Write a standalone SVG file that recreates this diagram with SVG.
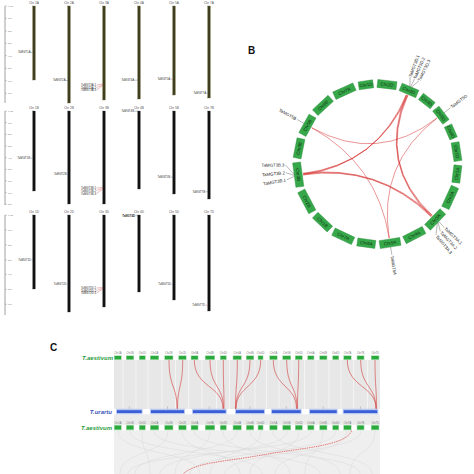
<svg xmlns="http://www.w3.org/2000/svg" width="474" height="474" viewBox="0 0 474 474">
<defs>
<style>
text{font-family:"Liberation Sans",Arial,sans-serif}
.chrA{fill:#403e20;stroke:#77754a;stroke-width:0.4}
.chrK{fill:#111;stroke:#444;stroke-width:0.3}
.clab{font-size:3.2px;fill:#555;text-anchor:middle}
.glab{font-size:2.8px;fill:#333;text-anchor:end}
.gl{stroke:#333;stroke-width:0.3;fill:none}
.gr{stroke:#d23a3a;stroke-width:0.35;fill:none}
.rul{stroke:#888;stroke-width:0.8;fill:none}
.tick{stroke:#888;stroke-width:0.4}
.tl{font-size:2.3px;fill:#777}
.box{fill:#36a84a;stroke:#2a8a3a;stroke-width:0.4}
.bt{font-size:4.5px;fill:#0f2f0f;text-anchor:middle}
.bg{font-size:4.3px;fill:#222}
.bl{stroke:#333;stroke-width:0.35;fill:none}
.lk{stroke:#d42a2a;stroke-width:0.55;fill:none;opacity:0.9}
.panel{font-size:10px;font-weight:bold;fill:#111}
.gb{fill:#a8deb0}
.gi{fill:#2aaa3c}
.ct{font-size:2.6px;fill:#777;text-anchor:middle}
.ub{fill:#b8c8f0}
.ui{fill:#3a5fd6}
.rc{stroke:#d43a3a;stroke-width:0.6;fill:none}
.gc{stroke:#d8d8d8;stroke-width:0.5;fill:none}
.ws{stroke:#fafafa;stroke-width:1;opacity:0.7}
</style>
</defs>

<!-- ===== Panel A ===== -->
<g id="panelA">
<g id="rulers">
<path class="rul" d="M5 6V103M5 111V205M5 215V315"/>
<path class="tick" d="M5 6h2M5 18.3h2M5 31h2M5 43.3h2M5 55.7h2M5 68.3h2M5 80.7h2M5 93.3h2
M5 111h2M5 122.7h2M5 134.3h2M5 146h2M5 157.7h2M5 169.3h2M5 181h2M5 192.7h2M5 204.3h2
M5 215h2M5 230h2M5 245h2M5 260h2M5 274.3h2M5 289.3h2M5 304.3h2"/>
<g class="tl">
<text x="8" y="6.8">0 Mb</text><text x="8" y="19.1">100</text><text x="8" y="31.8">200</text><text x="8" y="44.1">300</text><text x="8" y="56.5">400</text><text x="8" y="69.1">500</text><text x="8" y="81.5">600</text><text x="8" y="94.1">700</text>
<text x="8" y="111.8">0 Mb</text><text x="8" y="123.5">100</text><text x="8" y="135.1">200</text><text x="8" y="146.8">300</text><text x="8" y="158.5">400</text><text x="8" y="170.1">500</text><text x="8" y="181.8">600</text><text x="8" y="193.5">700</text><text x="8" y="205.1">800</text>
<text x="8" y="215.8">0 Mb</text><text x="8" y="230.8">100</text><text x="8" y="245.8">200</text><text x="8" y="260.8">300</text><text x="8" y="275.1">400</text><text x="8" y="290.1">500</text><text x="8" y="305.1">600</text>
</g>
</g>

<g id="chr1A"><text class="clab" x="34" y="4">Chr 1A</text><rect class="chrA" x="32.7" y="6" width="2.6" height="74"/><text class="glab" x="30.5" y="53.3">TaMGT1A</text><path class="gl" d="M31 52.5H32.7"/></g>
<g id="chr2A"><text class="clab" x="69" y="4">Chr 2A</text><rect class="chrA" x="67.7" y="6" width="2.6" height="97"/><text class="glab" x="65.5" y="81.3">TaMGT2A</text><path class="gl" d="M66 80.5H67.7"/></g>
<g id="chr3A"><text class="clab" x="104" y="4">Chr 3A</text><rect class="chrA" x="102.7" y="6" width="2.6" height="94"/><text class="glab" x="96" y="86">TaMGT3A.1</text><text class="glab" x="96" y="88.5">TaMGT3A.2</text><text class="glab" x="96" y="91">TaMGT3A.3</text><path class="gr" d="M96.5 85L102.7 84M96.5 87.5L102.7 84.8M96.5 90L102.7 85.5"/></g>
<g id="chr4A"><text class="clab" x="139" y="4">Chr 4A</text><rect class="chrA" x="137.7" y="6" width="2.6" height="93"/><text class="glab" x="134" y="81">TaMGT4A</text><path class="gl" d="M134.5 80.2H137.7"/></g>
<g id="chr5A"><text class="clab" x="174" y="4">Chr 5A</text><rect class="chrA" x="172.7" y="6" width="2.6" height="89"/><text class="glab" x="170" y="80">TaMGT5A</text><path class="gr" d="M170.5 79.2H172.7"/></g>
<g id="chr7A"><text class="clab" x="209" y="4">Chr 7A</text><rect class="chrA" x="207.7" y="6" width="2.6" height="92"/><text class="glab" x="206" y="94">TaMGT7A</text><path class="gl" d="M206.5 93.2H207.7"/></g>

<g id="chr1B"><text class="clab" x="34" y="108.5">Chr 1B</text><rect class="chrK" x="32.7" y="111" width="2.6" height="80"/><text class="glab" x="30" y="159">TaMGT1B</text><path class="gl" d="M30.5 158.2H32.7"/></g>
<g id="chr2B"><text class="clab" x="69" y="108.5">Chr 2B</text><rect class="chrK" x="67.7" y="111" width="2.6" height="93"/><text class="glab" x="66.5" y="175">TaMGT2B</text><path class="gl" d="M67 174.2H67.7"/></g>
<g id="chr3B"><text class="clab" x="104" y="108.5">Chr 3B</text><rect class="chrK" x="102.7" y="111" width="2.6" height="93"/><text class="glab" x="96" y="189">TaMGT3B.1</text><text class="glab" x="96" y="191.5">TaMGT3B.2</text><text class="glab" x="96" y="194.5">TaMGT3B.3</text><path class="gr" d="M96.5 188L102.7 187.5M96.5 190.5L102.7 188.3M96.5 193.5L102.7 189"/></g>
<g id="chr4B"><text class="clab" x="139" y="108.5">Chr 4B</text><rect class="chrK" x="137.7" y="111" width="2.6" height="78"/><text class="glab" x="134" y="112">TaMGT4B</text><path class="gl" d="M134.5 111.2H137.7"/></g>
<g id="chr5B"><text class="clab" x="174" y="108.5">Chr 5B</text><rect class="chrK" x="172.7" y="111" width="2.6" height="83"/><text class="glab" x="170" y="178">TaMGT5B</text><path class="gl" d="M170.5 177.2H172.7"/></g>
<g id="chr7B"><text class="clab" x="209" y="108.5">Chr 7B</text><rect class="chrK" x="207.7" y="111" width="2.6" height="88"/><text class="glab" x="205" y="192.5">TaMGT7B</text><path class="gl" d="M205.5 191.7H207.7"/></g>

<g id="chr1D"><text class="clab" x="34" y="212.5">Chr 1D</text><rect class="chrK" x="32.7" y="215" width="2.6" height="74"/><text class="glab" x="31" y="260.5">TaMGT1D</text><path class="gl" d="M31.5 259.7H32.7"/></g>
<g id="chr2D"><text class="clab" x="69" y="212.5">Chr 2D</text><rect class="chrK" x="67.7" y="215" width="2.6" height="97"/><text class="glab" x="66.5" y="285">TaMGT2D</text><path class="gr" d="M67 284.2H67.7"/></g>
<g id="chr3D"><text class="clab" x="104" y="212.5">Chr 3D</text><rect class="chrK" x="102.7" y="215" width="2.6" height="92"/><text class="glab" x="96" y="289">TaMGT3D.1</text><text class="glab" x="96" y="291.5">TaMGT3D.2</text><text class="glab" x="96" y="294">TaMGT3D.3</text><path class="gr" d="M96.5 288L102.7 287.5M96.5 290.5L102.7 288.3M96.5 293L102.7 289"/></g>
<g id="chr4D"><text class="clab" x="139" y="212.5">Chr 4D</text><rect class="chrK" x="137.7" y="215" width="2.6" height="77"/><text class="glab" x="135" y="216.5" font-weight="bold">TaMGT4D</text><path class="gl" d="M135.5 215.7H137.7"/></g>
<g id="chr5D"><text class="clab" x="174" y="212.5">Chr 5D</text><rect class="chrK" x="172.7" y="215" width="2.6" height="85"/><text class="glab" x="171" y="285">TaMGT5D</text><path class="gl" d="M171.5 284.2H172.7"/></g>
<g id="chr7D"><text class="clab" x="209" y="212.5">Chr 7D</text><rect class="chrK" x="207.7" y="215" width="2.6" height="96"/><text class="glab" x="205" y="306">TaMGT7D</text><path class="gr" d="M205.5 305.2H207.7"/></g>
</g>

<!-- ===== Panel B ===== -->
<text class="panel" x="248" y="54">B</text>
<g id="panelB">
<g id="links">
<path class="lk" d="M303.3 174.9Q377.5 164 406.3 94.8M303.2 174.1Q377.5 164 407 95.1M303.1 173.4Q377.5 164 407.8 95.4"/>
<path class="lk" d="M303.3 174.9Q377.5 164 431 216.6M303.2 174.1Q377.5 164 431.6 216M303.1 173.4Q377.5 164 432.2 215.3"/>
<path class="lk" d="M406.3 94.8Q377.5 164 431 216.6M407 95.1Q377.5 164 431.6 216M407.8 95.4Q377.5 164 432.2 215.3"/>
<path class="lk" d="M311.8 127.8Q377.5 164 436.9 118.2"/>
<path class="lk" d="M311.8 127.8Q377.5 164 389.2 238.1"/>
<path class="lk" d="M436.9 118.2Q377.5 164 389.2 238.1"/>
</g>
<g transform="translate(377.5 164)">
<g id="b1A" transform="rotate(7.15)"><rect class="box" x="76" y="-8.75" width="8" height="17.5"/><text class="bt" transform="translate(80 0) rotate(-90)" dy="1.6">Chr1A</text></g>
<g id="b2A" transform="rotate(24.68)"><rect class="box" x="76" y="-11.5" width="8" height="23"/><text class="bt" transform="translate(80 0) rotate(-90)" dy="1.6">Chr2A</text></g>
<g id="b3A" transform="rotate(43.85)"><rect class="box" x="76" y="-11.05" width="8" height="22.1"/><text class="bt" transform="translate(80 0) rotate(-90)" dy="1.6">Chr3A</text></g>
<g id="b4A" transform="rotate(62.65)"><rect class="box" x="76" y="-11" width="8" height="22"/><text class="bt" transform="translate(80 0) rotate(-90)" dy="1.6">Chr4A</text></g>
<g id="b5A" transform="rotate(81)"><rect class="box" x="76" y="-10.45" width="8" height="20.9"/><text class="bt" transform="translate(80 0) rotate(-90)" dy="1.6">Chr5A</text></g>
<g id="b6A" transform="rotate(98.03)"><rect class="box" x="76" y="-9.1" width="8" height="18.2"/><text class="bt" transform="translate(80 0) rotate(-90)" dy="1.6">Chr6A</text></g>
<g id="b7A" transform="rotate(115.33)"><rect class="box" x="76" y="-10.85" width="8" height="21.7"/><text class="bt" transform="translate(80 0) rotate(-90)" dy="1.6">Chr7A</text></g>
<g id="b1B" transform="rotate(133.39)"><rect class="box" x="76" y="-10.15" width="8" height="20.3"/><text class="bt" transform="translate(80 0) rotate(-90)" dy="1.6">Chr1B</text></g>
<g id="b2B" transform="rotate(152.13)"><rect class="box" x="76" y="-11.8" width="8" height="23.6"/><text class="bt" transform="translate(80 0) rotate(-90)" dy="1.6">Chr2B</text></g>
<g id="b3B" transform="rotate(172.36)"><rect class="box" x="76" y="-12.25" width="8" height="24.5"/><text class="bt" transform="translate(80 0) rotate(-90)" dy="1.6">Chr3B</text></g>
<g id="b4B" transform="rotate(191.25)"><rect class="box" x="76" y="-9.95" width="8" height="19.9"/><text class="bt" transform="translate(80 0) rotate(90)" dy="1.6">Chr4B</text></g>
<g id="b5B" transform="rotate(208.9)"><rect class="box" x="76" y="-10.5" width="8" height="21"/><text class="bt" transform="translate(80 0) rotate(90)" dy="1.6">Chr5B</text></g>
<g id="b6B" transform="rotate(227.03)"><rect class="box" x="76" y="-10.6" width="8" height="21.2"/><text class="bt" transform="translate(80 0) rotate(90)" dy="1.6">Chr6B</text></g>
<g id="b7B" transform="rotate(245.56)"><rect class="box" x="76" y="-11.05" width="8" height="22.1"/><text class="bt" transform="translate(80 0) rotate(90)" dy="1.6">Chr7B</text></g>
<g id="b1D" transform="rotate(261.68)"><rect class="box" x="76" y="-7.3" width="8" height="14.6"/><text class="bt" transform="translate(80 0) rotate(90)" dy="1.6">Chr1D</text></g>
<g id="b2D" transform="rotate(276.78)"><rect class="box" x="76" y="-9.6" width="8" height="19.2"/><text class="bt" transform="translate(80 0) rotate(90)" dy="1.6">Chr2D</text></g>
<g id="b3D" transform="rotate(293.16)"><rect class="box" x="76" y="-9.05" width="8" height="18.1"/><text class="bt" transform="translate(80 0) rotate(90)" dy="1.6">Chr3D</text></g>
<g id="b4D" transform="rotate(308.04)"><rect class="box" x="76" y="-7.5" width="8" height="15"/><text class="bt" transform="translate(80 0) rotate(90)" dy="1.6">Chr4D</text></g>
<g id="b5D" transform="rotate(322.41)"><rect class="box" x="76" y="-8.35" width="8" height="16.7"/><text class="bt" transform="translate(80 0) rotate(90)" dy="1.6">Chr5D</text></g>
<g id="b6D" transform="rotate(336.39)"><rect class="box" x="76" y="-7" width="8" height="14"/><text class="bt" transform="translate(80 0) rotate(90)" dy="1.6">Chr6D</text></g>
<g id="b7D" transform="rotate(351.14)"><rect class="box" x="76" y="-9.4" width="8" height="18.8"/><text class="bt" transform="translate(80 0) rotate(90)" dy="1.6">Chr7D</text></g>

<g id="geneLabels">
<text class="bg" transform="rotate(290.5) translate(93 0)" dy="1.5">TaMGT3D.1</text>
<text class="bg" transform="rotate(293.5) translate(93 0)" dy="1.5">TaMGT3D.2</text>
<text class="bg" transform="rotate(296.5) translate(93 0)" dy="1.5">TaMGT3D.3</text>
<text class="bg" transform="rotate(322.4) translate(93 0)" dy="1.5">TaMGT5D</text>
<text class="bg" transform="rotate(208.9) translate(93 0) rotate(180)" text-anchor="end" dy="1.5">TaMGT5B</text>
<text class="bg" transform="rotate(179.4) translate(93 0) rotate(180)" text-anchor="end" dy="1.5">TaMGT3B.3</text>
<text class="bg" transform="rotate(174.6) translate(93 0) rotate(180)" text-anchor="end" dy="1.5">TaMGT3B.2</text>
<text class="bg" transform="rotate(170.1) translate(93 0) rotate(180)" text-anchor="end" dy="1.5">TaMGT3B.1</text>
<text class="bg" transform="rotate(43.5) translate(93 0)" dy="1.5">TaMGT3A.1</text>
<text class="bg" transform="rotate(47) translate(93 0)" dy="1.5">TaMGT3A.2</text>
<text class="bg" transform="rotate(50.5) translate(93 0)" dy="1.5">TaMGT3A.3</text>
<text class="bg" transform="rotate(81) translate(93 0)" dy="1.5">TaMGT5A</text>
</g>
</g>
<path class="bl" d="M409.8 86.4L410.1 76.9M410.6 86.8L414.6 78.7M411.4 87.1L419 80.8
M444.1 112.8L450.4 107.9M304 123.4L297 119.5
M294.2 174.5L285.5 165M294.3 175.4L285.9 172.7M294.4 176.3L286.9 179.8
M438.7 221.5L444.2 227.3M438.1 222.2L440.2 231.3M437.4 222.9L436 235
M390.6 247L391.9 254.9"/>
</g>

<!-- ===== Panel C ===== -->
<text class="panel" x="50" y="351">C</text>
<g id="panelC">
<g id="backgrounds">
<rect x="114" y="360" width="266" height="49" fill="#e7e7e7"/>
<path class="ws" d="M123 360V409M136 360V409M148 360V409M162 360V409M175.5 360V409M188.5 360V409M202 360V409M216.5 360V409M229.5 360V409M243 360V409M255 360V409M266.5 360V409M279 360V409M292 360V409M304.5 360V409M316 360V409M329 360V409M341 360V409M353.5 360V409M367.5 360V409"/>
<rect x="114" y="414.3" width="266" height="10.5" fill="#ebebeb"/>
<rect x="114" y="430.3" width="266" height="43.7" fill="#efefef"/>
<path class="gc" d="M118 431C118 455 200 450 200 474M130 431C130 455 262 450 262 474M142 431C142 455 150 450 150 474M154 431C154 455 320 450 320 474M168 431C168 455 120 450 120 474M182 431C182 455 240 450 240 474M194 431C194 455 360 450 360 474M210 431C210 455 175 450 175 474M223 431C223 455 290 450 290 474M237 431C237 455 135 450 135 474M250 431C250 455 340 450 340 474M261 431C261 455 210 450 210 474M273 431C273 455 372 450 372 474M287 431C287 455 160 450 160 474M299 431C299 455 250 450 250 474M311 431C311 455 128 450 128 474M323 431C323 455 305 450 305 474M336 431C336 455 190 450 190 474M347 431C347 455 275 450 275 474M361 431C361 455 225 450 225 474M375 431C375 455 350 450 350 474"/>
</g>

<g id="connectorsC">
<path class="rc" d="M169 360C169 388 177 385 177 409M182.7 360C182.7 388 177.5 385 177.5 409"/>
<path class="rc" d="M194.3 360C194.3 388 223 385 223 409M210 360C210 388 223.5 385 223.5 409M223.3 360C223.3 388 224 385 224 409"/>
<path class="rc" d="M237.3 360C237.3 388 235.5 385 235.5 409M250 360C250 388 235.8 385 235.8 409M260.7 360C260.7 388 236 385 236 409"/>
<path class="rc" d="M273.3 360C273.3 388 296.5 385 296.5 409M286.7 360C286.7 388 297 385 297 409M298.7 360C298.7 388 297.5 385 297.5 409"/>
<path class="rc" d="M347.3 360C347.3 388 376 385 376 409M360.7 360C360.7 388 376 385 376 409M375 360C375 388 376.5 385 376.5 409"/>
<path d="M351.5 430.5C347 446 300 448 262 455S196 462 183 474" fill="none" stroke="#d44" stroke-width="0.7" stroke-dasharray="1.5 0.8"/>
</g>

<text x="113" y="359.8" font-size="6" font-weight="bold" font-style="italic" fill="#2e9e44" text-anchor="end">T.aestivum</text>
<text x="112" y="413.6" font-size="6" font-weight="bold" font-style="italic" fill="#3a55b8" text-anchor="end">T.urartu</text>
<text x="112" y="429.6" font-size="6" font-weight="bold" font-style="italic" fill="#2e9e44" text-anchor="end">T.aestivum</text>

<g id="topRow">
<g id="t1A"><text class="ct" x="117.9" y="354">Chr1A</text><rect class="gb" x="114" y="355.3" width="7.7" height="4.7"/><rect class="gi" x="114.6" y="356" width="6.5" height="3.3"/></g>
<g id="t1B"><text class="ct" x="130" y="354">Chr1B</text><rect class="gb" x="126" y="355.3" width="8" height="4.7"/><rect class="gi" x="126.6" y="356" width="6.8" height="3.3"/></g>
<g id="t1D"><text class="ct" x="142.4" y="354">Chr1D</text><rect class="gb" x="139" y="355.3" width="6.7" height="4.7"/><rect class="gi" x="139.6" y="356" width="5.5" height="3.3"/></g>
<g id="t2A"><text class="ct" x="154.5" y="354">Chr2A</text><rect class="gb" x="150" y="355.3" width="9" height="4.7"/><rect class="gi" x="150.6" y="356" width="7.8" height="3.3"/></g>
<g id="t2B"><text class="ct" x="168.8" y="354">Chr2B</text><rect class="gb" x="164.3" y="355.3" width="9" height="4.7"/><rect class="gi" x="164.9" y="356" width="7.8" height="3.3"/></g>
<g id="t2D"><text class="ct" x="182.5" y="354">Chr2D</text><rect class="gb" x="178.3" y="355.3" width="8.3" height="4.7"/><rect class="gi" x="178.9" y="356" width="7.1" height="3.3"/></g>
<g id="t3A"><text class="ct" x="194.6" y="354">Chr3A</text><rect class="gb" x="190.7" y="355.3" width="7.7" height="4.7"/><rect class="gi" x="191.3" y="356" width="6.5" height="3.3"/></g>
<g id="t3B"><text class="ct" x="210" y="354">Chr3B</text><rect class="gb" x="205" y="355.3" width="10" height="4.7"/><rect class="gi" x="205.6" y="356" width="8.8" height="3.3"/></g>
<g id="t3D"><text class="ct" x="223.4" y="354">Chr3D</text><rect class="gb" x="220" y="355.3" width="6.7" height="4.7"/><rect class="gi" x="220.6" y="356" width="5.5" height="3.3"/></g>
<g id="t4A"><text class="ct" x="237.2" y="354">Chr4A</text><rect class="gb" x="232.7" y="355.3" width="9" height="4.7"/><rect class="gi" x="233.3" y="356" width="7.8" height="3.3"/></g>
<g id="t4B"><text class="ct" x="250" y="354">Chr4B</text><rect class="gb" x="246" y="355.3" width="8" height="4.7"/><rect class="gi" x="246.6" y="356" width="6.8" height="3.3"/></g>
<g id="t4D"><text class="ct" x="260.6" y="354">Chr4D</text><rect class="gb" x="257.7" y="355.3" width="5.7" height="4.7"/><rect class="gi" x="258.3" y="356" width="4.5" height="3.3"/></g>
<g id="t5A"><text class="ct" x="273.5" y="354">Chr5A</text><rect class="gb" x="269.3" y="355.3" width="8.3" height="4.7"/><rect class="gi" x="269.9" y="356" width="7.1" height="3.3"/></g>
<g id="t5B"><text class="ct" x="286.7" y="354">Chr5B</text><rect class="gb" x="282.3" y="355.3" width="8.7" height="4.7"/><rect class="gi" x="282.9" y="356" width="7.5" height="3.3"/></g>
<g id="t5D"><text class="ct" x="298.9" y="354">Chr5D</text><rect class="gb" x="295" y="355.3" width="7.7" height="4.7"/><rect class="gi" x="295.6" y="356" width="6.5" height="3.3"/></g>
<g id="t6A"><text class="ct" x="310.8" y="354">Chr6A</text><rect class="gb" x="307.3" y="355.3" width="7" height="4.7"/><rect class="gi" x="307.9" y="356" width="5.8" height="3.3"/></g>
<g id="t6B"><text class="ct" x="323.3" y="354">Chr6B</text><rect class="gb" x="319.3" y="355.3" width="8" height="4.7"/><rect class="gi" x="319.9" y="356" width="6.8" height="3.3"/></g>
<g id="t6D"><text class="ct" x="335.7" y="354">Chr6D</text><rect class="gb" x="332.3" y="355.3" width="6.7" height="4.7"/><rect class="gi" x="332.9" y="356" width="5.5" height="3.3"/></g>
<g id="t7A"><text class="ct" x="347.5" y="354">Chr7A</text><rect class="gb" x="343.3" y="355.3" width="8.3" height="4.7"/><rect class="gi" x="343.9" y="356" width="7.1" height="3.3"/></g>
<g id="t7B"><text class="ct" x="360.6" y="354">Chr7B</text><rect class="gb" x="356.7" y="355.3" width="7.7" height="4.7"/><rect class="gi" x="357.3" y="356" width="6.5" height="3.3"/></g>
<g id="t7D"><text class="ct" x="375.2" y="354">Chr7D</text><rect class="gb" x="371" y="355.3" width="8.3" height="4.7"/><rect class="gi" x="371.6" y="356" width="7.1" height="3.3"/></g>
</g>

<g id="urartuRow">
<g id="u1"><rect class="ub" x="116" y="408.8" width="26.7" height="5.4" rx="1"/><rect class="ui" x="117" y="410.2" width="24.7" height="2.8"/><path class="tick" d="M129.3 406.5V408.8"/></g>
<g id="u2"><rect class="ub" x="150" y="408.8" width="35" height="5.4" rx="1"/><rect class="ui" x="151" y="410.2" width="33" height="2.8"/><path class="tick" d="M167.5 406.5V408.8"/></g>
<g id="u3"><rect class="ub" x="192" y="408.8" width="34.7" height="5.4" rx="1"/><rect class="ui" x="193" y="410.2" width="32.7" height="2.8"/><path class="tick" d="M209.3 406.5V408.8"/></g>
<g id="u4"><rect class="ub" x="235" y="408.8" width="30" height="5.4" rx="1"/><rect class="ui" x="236" y="410.2" width="28" height="2.8"/><path class="tick" d="M250 406.5V408.8"/></g>
<g id="u5"><rect class="ub" x="271" y="408.8" width="30.7" height="5.4" rx="1"/><rect class="ui" x="272" y="410.2" width="28.7" height="2.8"/><path class="tick" d="M286.3 406.5V408.8"/></g>
<g id="u6"><rect class="ub" x="309" y="408.8" width="28.7" height="5.4" rx="1"/><rect class="ui" x="310" y="410.2" width="26.7" height="2.8"/><path class="tick" d="M323.3 406.5V408.8"/></g>
<g id="u7"><rect class="ub" x="342.7" y="408.8" width="35.6" height="5.4" rx="1"/><rect class="ui" x="343.7" y="410.2" width="33.6" height="2.8"/><path class="tick" d="M360.5 406.5V408.8"/></g>
</g>

<g id="bottomRow">
<g id="d1A"><text class="ct" x="117.9" y="424">Chr1A</text><rect class="gb" x="114" y="424.8" width="7.7" height="5.5"/><rect class="gi" x="114.6" y="425.6" width="6.5" height="3.9"/></g>
<g id="d1B"><text class="ct" x="130" y="424">Chr1B</text><rect class="gb" x="126" y="424.8" width="8" height="5.5"/><rect class="gi" x="126.6" y="425.6" width="6.8" height="3.9"/></g>
<g id="d1D"><text class="ct" x="142.4" y="424">Chr1D</text><rect class="gb" x="139" y="424.8" width="6.7" height="5.5"/><rect class="gi" x="139.6" y="425.6" width="5.5" height="3.9"/></g>
<g id="d2A"><text class="ct" x="154.5" y="424">Chr2A</text><rect class="gb" x="150" y="424.8" width="9" height="5.5"/><rect class="gi" x="150.6" y="425.6" width="7.8" height="3.9"/></g>
<g id="d2B"><text class="ct" x="168.8" y="424">Chr2B</text><rect class="gb" x="164.3" y="424.8" width="9" height="5.5"/><rect class="gi" x="164.9" y="425.6" width="7.8" height="3.9"/></g>
<g id="d2D"><text class="ct" x="182.5" y="424">Chr2D</text><rect class="gb" x="178.3" y="424.8" width="8.3" height="5.5"/><rect class="gi" x="178.9" y="425.6" width="7.1" height="3.9"/></g>
<g id="d3A"><text class="ct" x="194.6" y="424">Chr3A</text><rect class="gb" x="190.7" y="424.8" width="7.7" height="5.5"/><rect class="gi" x="191.3" y="425.6" width="6.5" height="3.9"/></g>
<g id="d3B"><text class="ct" x="210" y="424">Chr3B</text><rect class="gb" x="205" y="424.8" width="10" height="5.5"/><rect class="gi" x="205.6" y="425.6" width="8.8" height="3.9"/></g>
<g id="d3D"><text class="ct" x="223.4" y="424">Chr3D</text><rect class="gb" x="220" y="424.8" width="6.7" height="5.5"/><rect class="gi" x="220.6" y="425.6" width="5.5" height="3.9"/></g>
<g id="d4A"><text class="ct" x="237.2" y="424">Chr4A</text><rect class="gb" x="232.7" y="424.8" width="9" height="5.5"/><rect class="gi" x="233.3" y="425.6" width="7.8" height="3.9"/></g>
<g id="d4B"><text class="ct" x="250" y="424">Chr4B</text><rect class="gb" x="246" y="424.8" width="8" height="5.5"/><rect class="gi" x="246.6" y="425.6" width="6.8" height="3.9"/></g>
<g id="d4D"><text class="ct" x="260.6" y="424">Chr4D</text><rect class="gb" x="257.7" y="424.8" width="5.7" height="5.5"/><rect class="gi" x="258.3" y="425.6" width="4.5" height="3.9"/></g>
<g id="d5A"><text class="ct" x="273.5" y="424">Chr5A</text><rect class="gb" x="269.3" y="424.8" width="8.3" height="5.5"/><rect class="gi" x="269.9" y="425.6" width="7.1" height="3.9"/></g>
<g id="d5B"><text class="ct" x="286.7" y="424">Chr5B</text><rect class="gb" x="282.3" y="424.8" width="8.7" height="5.5"/><rect class="gi" x="282.9" y="425.6" width="7.5" height="3.9"/></g>
<g id="d5D"><text class="ct" x="298.9" y="424">Chr5D</text><rect class="gb" x="295" y="424.8" width="7.7" height="5.5"/><rect class="gi" x="295.6" y="425.6" width="6.5" height="3.9"/></g>
<g id="d6A"><text class="ct" x="310.8" y="424">Chr6A</text><rect class="gb" x="307.3" y="424.8" width="7" height="5.5"/><rect class="gi" x="307.9" y="425.6" width="5.8" height="3.9"/></g>
<g id="d6B"><text class="ct" x="323.3" y="424">Chr6B</text><rect class="gb" x="319.3" y="424.8" width="8" height="5.5"/><rect class="gi" x="319.9" y="425.6" width="6.8" height="3.9"/></g>
<g id="d6D"><text class="ct" x="335.7" y="424">Chr6D</text><rect class="gb" x="332.3" y="424.8" width="6.7" height="5.5"/><rect class="gi" x="332.9" y="425.6" width="5.5" height="3.9"/></g>
<g id="d7A"><text class="ct" x="347.5" y="424">Chr7A</text><rect class="gb" x="343.3" y="424.8" width="8.3" height="5.5"/><rect class="gi" x="343.9" y="425.6" width="7.1" height="3.9"/></g>
<g id="d7B"><text class="ct" x="360.6" y="424">Chr7B</text><rect class="gb" x="356.7" y="424.8" width="7.7" height="5.5"/><rect class="gi" x="357.3" y="425.6" width="6.5" height="3.9"/></g>
<g id="d7D"><text class="ct" x="375.2" y="424">Chr7D</text><rect class="gb" x="371" y="424.8" width="8.3" height="5.5"/><rect class="gi" x="371.6" y="425.6" width="7.1" height="3.9"/></g>
</g>
</g>
</svg>
